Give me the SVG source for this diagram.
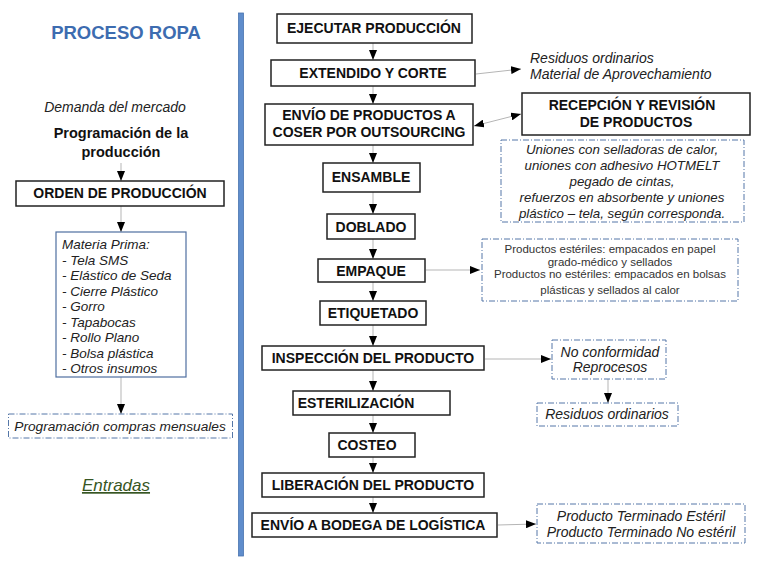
<svg xmlns="http://www.w3.org/2000/svg" width="768" height="575" viewBox="0 0 768 575">
<style>
.bx{fill:#fff;stroke:#222;stroke-width:1.5}
.mp{fill:#fff;stroke:#4f6fa0;stroke-width:1.2}
.dsh{fill:#fff;stroke:#5577a8;stroke-width:1;stroke-dasharray:6 2 1 2}
.b{font-family:"Liberation Sans",Arial,sans-serif;font-weight:bold;font-size:14px;fill:#111;text-anchor:middle}
.i{font-family:"Liberation Sans",Arial,sans-serif;font-style:italic;font-size:14px;fill:#222}
.n{font-family:"Liberation Sans",Arial,sans-serif;font-size:11.5px;fill:#333;text-anchor:middle}
.c{fill:none;stroke:#b5b5b5;stroke-width:1}
</style>
<defs>
<marker id="ah" viewBox="0 0 10 8" refX="10" refY="4" markerWidth="10" markerHeight="8" markerUnits="userSpaceOnUse" orient="auto-start-reverse">
<path d="M0,0 L10,4 L0,8 Z" fill="#000"/>
</marker>
</defs>
<rect width="768" height="575" fill="#fff"/>

<g id="title"><text x="126" y="39" font-family="Liberation Sans,Arial,sans-serif" font-weight="bold" font-size="18.5" fill="#3d6cb0" text-anchor="middle">PROCESO ROPA</text></g>
<g id="divider"><rect x="238.5" y="13" width="5" height="543" fill="#5f8dcc" stroke="#4a74b0" stroke-width="0.8"/></g>

<g id="connectors">
<line class="c" x1="121" y1="163" x2="121" y2="181" marker-end="url(#ah)"/>
<line class="c" x1="121" y1="206" x2="121" y2="232" marker-end="url(#ah)"/>
<line class="c" x1="121" y1="377" x2="121" y2="414" marker-end="url(#ah)"/>
<line class="c" x1="373" y1="43" x2="373" y2="60" marker-end="url(#ah)"/>
<line class="c" x1="373" y1="86" x2="373" y2="104" marker-end="url(#ah)"/>
<line class="c" x1="373" y1="145" x2="373" y2="163" marker-end="url(#ah)"/>
<line class="c" x1="373" y1="192" x2="373" y2="214" marker-end="url(#ah)"/>
<line class="c" x1="373" y1="239" x2="373" y2="259" marker-end="url(#ah)"/>
<line class="c" x1="373" y1="282" x2="373" y2="301" marker-end="url(#ah)"/>
<line class="c" x1="373" y1="325" x2="373" y2="346" marker-end="url(#ah)"/>
<line class="c" x1="373" y1="370" x2="373" y2="391" marker-end="url(#ah)"/>
<line class="c" x1="373" y1="415" x2="373" y2="433" marker-end="url(#ah)"/>
<line class="c" x1="373" y1="457" x2="373" y2="473" marker-end="url(#ah)"/>
<line class="c" x1="373" y1="497" x2="373" y2="513" marker-end="url(#ah)"/>
<line class="c" x1="476" y1="74" x2="521" y2="69" marker-end="url(#ah)"/>
<line class="c" x1="474" y1="126" x2="521" y2="114" marker-start="url(#ah)" marker-end="url(#ah)"/>
<line class="c" x1="426" y1="270" x2="480" y2="270" marker-end="url(#ah)"/>
<line class="c" x1="485" y1="359" x2="551" y2="359" marker-end="url(#ah)"/>
<line class="c" x1="608" y1="379" x2="608" y2="403" marker-end="url(#ah)"/>
<line class="c" x1="498" y1="525" x2="536" y2="524" marker-end="url(#ah)"/>
</g>

<g id="demanda"><text class="i" x="115" y="112" style="text-anchor:middle">Demanda del mercado</text></g>
<g id="programacion"><text class="b" x="121" y="138" style="font-size:14.5px">Programación de la</text><text class="b" x="121" y="157" style="font-size:14.5px">producción</text></g>
<g id="orden"><rect class="bx" x="16" y="181" width="208" height="25"/><text class="b" x="120" y="198">ORDEN DE PRODUCCIÓN</text></g>
<g id="materia"><rect class="mp" x="56" y="232" width="130" height="145"/>
<text class="i" style="font-size:13.5px"><tspan x="62" y="249">Materia Prima:</tspan><tspan x="62" y="264.5">- Tela SMS</tspan><tspan x="62" y="280">- Elástico de Seda</tspan><tspan x="62" y="295.5">- Cierre Plástico</tspan><tspan x="62" y="311">- Gorro</tspan><tspan x="62" y="326.5">- Tapabocas</tspan><tspan x="62" y="342">- Rollo Plano</tspan><tspan x="62" y="357.5">- Bolsa plástica</tspan><tspan x="62" y="373">- Otros insumos</tspan></text></g>
<g id="compras"><rect class="dsh" x="8.5" y="414" width="224" height="24"/><text class="i" x="120" y="431" style="font-size:13.7px;text-anchor:middle">Programación compras mensuales</text></g>
<g id="entradas"><text class="i" x="116" y="491" style="font-size:17px;fill:#375623;text-anchor:middle;text-decoration:underline">Entradas</text></g>

<g id="ejecutar"><rect class="bx" x="277" y="14" width="195" height="29"/><text class="b" x="374" y="33">EJECUTAR PRODUCCIÓN</text></g>
<g id="extendido"><rect class="bx" x="271" y="60" width="204" height="26"/><text class="b" x="373" y="78">EXTENDIDO Y CORTE</text></g>
<g id="residuos1"><text class="i" x="530" y="63">Residuos ordinarios</text><text class="i" x="530" y="79">Material de Aprovechamiento</text></g>
<g id="envio"><rect class="bx" x="265" y="104" width="208" height="41"/><text class="b" x="369" y="120">ENVÍO DE PRODUCTOS A</text><text class="b" x="369" y="137">COSER POR OUTSOURCING</text></g>
<g id="recepcion"><rect class="bx" x="522" y="93" width="228" height="42"/><text class="b" x="632" y="110">RECEPCIÓN Y REVISIÓN</text><text class="b" x="636" y="127">DE PRODUCTOS</text></g>
<g id="uniones"><rect class="dsh" x="501" y="140" width="243" height="82"/>
<text class="i" style="font-size:13.3px;text-anchor:middle"><tspan x="622" y="154">Uniones con selladoras de calor,</tspan><tspan x="622" y="170">uniones con adhesivo HOTMELT</tspan><tspan x="622" y="186">pegado de cintas,</tspan><tspan x="622" y="202">refuerzos en absorbente y uniones</tspan><tspan x="622" y="218">plástico – tela, según corresponda.</tspan></text></g>
<g id="ensamble"><rect class="bx" x="323" y="163" width="97" height="29"/><text class="b" x="371" y="182">ENSAMBLE</text></g>
<g id="doblado"><rect class="bx" x="327" y="214" width="88" height="25"/><text class="b" x="371" y="232">DOBLADO</text></g>
<g id="empaque"><rect class="bx" x="318" y="259" width="107" height="23"/><text class="b" x="371" y="276">EMPAQUE</text></g>
<g id="productos"><rect class="dsh" x="482" y="239" width="256" height="62"/>
<text class="n"><tspan x="610" y="253">Productos estériles: empacados en papel</tspan><tspan x="610" y="266">grado-médico y sellados</tspan><tspan x="610" y="278">Productos no estériles: empacados en bolsas</tspan><tspan x="610" y="294">plásticas y sellados al calor</tspan></text></g>
<g id="etiquetado"><rect class="bx" x="320" y="301" width="106" height="24"/><text class="b" x="373" y="318">ETIQUETADO</text></g>
<g id="inspeccion"><rect class="bx" x="262" y="346" width="222" height="24"/><text class="b" x="373" y="363">INSPECCIÓN DEL PRODUCTO</text></g>
<g id="noconformidad"><rect class="dsh" x="552" y="340" width="114" height="39"/><text class="i" style="text-anchor:middle"><tspan x="610" y="357">No conformidad</tspan><tspan x="610" y="372">Reprocesos</tspan></text></g>
<g id="residuos2"><rect class="dsh" x="537" y="403" width="141" height="23"/><text class="i" x="607" y="419" style="text-anchor:middle">Residuos ordinarios</text></g>
<g id="esterilizacion"><rect class="bx" x="293" y="391" width="157" height="24"/><text class="b" x="356" y="408">ESTERILIZACIÓN</text></g>
<g id="costeo"><rect class="bx" x="329" y="433" width="86" height="24"/><text class="b" x="367" y="450">COSTEO</text></g>
<g id="liberacion"><rect class="bx" x="262" y="473" width="222" height="24"/><text class="b" x="373" y="490">LIBERACIÓN DEL PRODUCTO</text></g>
<g id="bodega"><rect class="bx" x="252" y="513" width="245" height="24"/><text class="b" x="373" y="530">ENVÍO A BODEGA DE LOGÍSTICA</text></g>
<g id="terminado"><rect class="dsh" x="537" y="504" width="208" height="39"/><text class="i" style="text-anchor:middle"><tspan x="641" y="521">Producto Terminado Estéril</tspan><tspan x="641" y="537">Producto Terminado No estéril</tspan></text></g>
</svg>
